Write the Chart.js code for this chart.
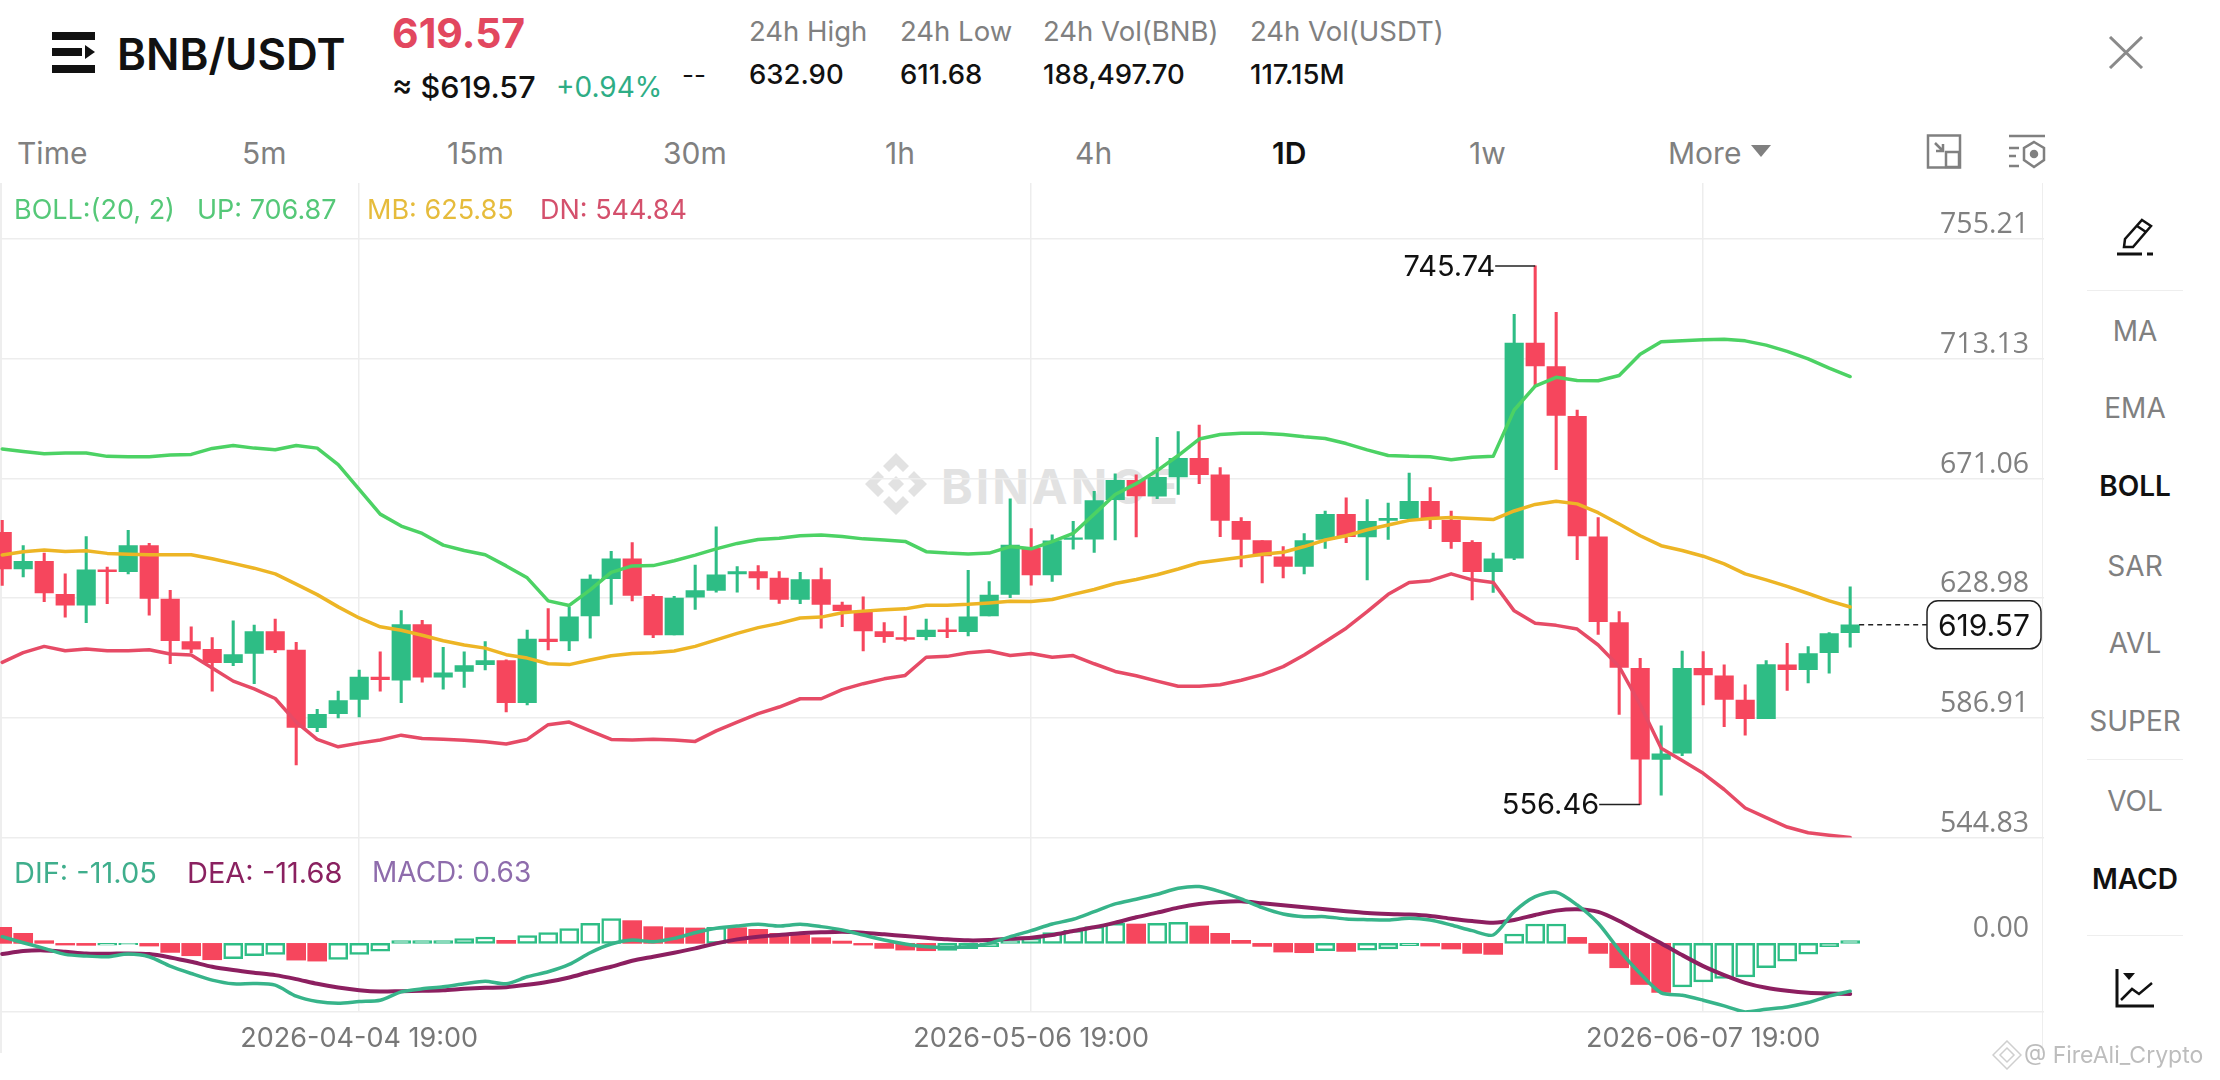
<!DOCTYPE html>
<html lang="en">

<head>
    <meta charset="UTF-8">
    <title>BNB/USDT | 1D</title>
    <script src="https://cdn.jsdelivr.net/npm/chart.js"></script>
    <style>
        body {
            margin: 0;
            background: #FFFFFF;
            font-family: 'Inter', 'Noto Sans', sans-serif;
            width: 2220px;
            height: 1080px;
            overflow: hidden;
            position: relative;
        }

        .t {
            position: absolute;
            white-space: nowrap;
            line-height: 1;
            transform: translateY(-50%);
        }

        .c {
            transform: translate(-50%, -50%);
        }

        .grey { color: #808080; }
        .dark { color: #111111; }

        .head { font-size: 27.5px; }
        .tab { font-size: 30px; top: 153px; color: #808080; }
        .side { font-size: 28px; left: 2135px; color: #808080; }
        .side.on { color: #111111; font-weight: 600; }
        .leg { font-size: 27px; }

        .rule {
            position: absolute;
            left: 2087px;
            width: 96px;
            height: 1px;
            background: #EEEEEE;
        }

        canvas, svg, .frame { position: absolute; }

        .frame {
            left: 0;
            top: 183px;
            width: 2043px;
            height: 870px;
            border-left: 2px solid #EEEEEE;
            border-right: 1px solid #EEEEEE;
            box-sizing: border-box;
        }
    </style>
</head>

<body>
    <svg style="left:52px;top:32px" width="44" height="42" viewBox="0 0 44 42">
        <rect x="0" y="0" width="43" height="8" fill="#111" />
        <rect x="0" y="33" width="43" height="8" fill="#111" />
        <rect x="0" y="16" width="30" height="8" fill="#111" />
        <path d="M33 13 L43 20 L33 27 Z" fill="#111" />
    </svg>
    <div class="t dark" style="left:117px;top:54px;font-size:44px;font-weight:600">BNB/USDT</div>
    <div class="t" style="left:392px;top:33px;font-size:41px;font-weight:700;color:#E2475F">619.57</div>
    <div class="t dark" style="left:392px;top:87px;font-size:30.5px;font-weight:500">≈ $619.57</div>
    <div class="t" style="left:556px;top:87px;font-size:28px;color:#2EAD85">+0.94%</div>
    <div class="t dark" style="left:682px;top:75px;font-size:26px">--</div>

    <div class="t grey head" style="left:749px;top:32px">24h High</div>
    <div class="t dark head" style="left:749px;top:75px;font-weight:500">632.90</div>
    <div class="t grey head" style="left:900px;top:32px">24h Low</div>
    <div class="t dark head" style="left:900px;top:75px;font-weight:500">611.68</div>
    <div class="t grey head" style="left:1043px;top:32px">24h Vol(BNB)</div>
    <div class="t dark head" style="left:1043px;top:75px;font-weight:500">188,497.70</div>
    <div class="t grey head" style="left:1250px;top:32px">24h Vol(USDT)</div>
    <div class="t dark head" style="left:1250px;top:75px;font-weight:500">117.15M</div>

    <svg style="left:2108px;top:36px" width="36" height="33" viewBox="0 0 36 33">
        <path d="M2 1 L34 32 M34 1 L2 32" stroke="#8A8A8A" stroke-width="3" fill="none" />
    </svg>

    <div class="t tab" style="left:17px">Time</div>
    <div class="t tab" style="left:242px">5m</div>
    <div class="t tab" style="left:447px">15m</div>
    <div class="t tab" style="left:663px">30m</div>
    <div class="t tab" style="left:885px">1h</div>
    <div class="t tab" style="left:1075px">4h</div>
    <div class="t tab" style="left:1272px;color:#111;font-weight:600">1D</div>
    <div class="t tab" style="left:1469px">1w</div>
    <div class="t tab" style="left:1668px">More</div>
    <svg style="left:1751px;top:145px" width="20" height="12" viewBox="0 0 20 12">
        <path d="M0 0 H20 L10 12 Z" fill="#808080" />
    </svg>
    <svg style="left:1926px;top:134px" width="36" height="35" viewBox="0 0 36 35" fill="none" stroke="#808080" stroke-width="2.5">
        <path d="M12 1.5 H34 V33.5 H2 V1.5 H12" />
        <rect x="20" y="18" width="13" height="15" />
        <path d="M9 9 L17 17 M17 10 V17 H10" />
    </svg>
    <svg style="left:2009px;top:134px" width="38" height="35" viewBox="0 0 38 35" fill="none" stroke="#808080" stroke-width="2.5">
        <path d="M0 2 H36 M0 14 H10 M0 22 H7 M0 32 H10" />
        <path d="M25 8 L35 14 V26 L25 33 L15 26 V14 Z" />
        <circle cx="25" cy="20" r="3" fill="#808080" />
    </svg>

    <div class="frame"></div>

    <!-- watermark sits under the transparent chart canvas -->
    <svg style="left:865px;top:453px" width="62" height="62" viewBox="0 0 62 62" fill="#E2E2E2">
        <path d="M31 0 L44 13 L38 19 L31 12 L24 19 L18 13 Z" />
        <path d="M13 18 L19 24 L12 31 L19 38 L13 44 L0 31 Z" />
        <path d="M49 18 L62 31 L49 44 L43 38 L50 31 L43 24 Z" />
        <path d="M31 23 L39 31 L31 39 L23 31 Z" />
        <path d="M31 62 L18 49 L24 43 L31 50 L38 43 L44 49 Z" />
    </svg>
    <div class="t" style="left:941px;top:487px;font-size:48px;font-weight:700;letter-spacing:3px;color:#E2E2E2">BINANCE</div>

    <canvas id="priceChart" width="2044" height="656" style="left:0;top:183px"></canvas>
    <canvas id="macdChart" width="2044" height="223" style="left:0;top:837px"></canvas>

    <div class="t leg" style="left:14px;top:209px;color:#55C878">BOLL:(20, 2)</div>
    <div class="t leg" style="left:197px;top:209px;color:#55C878">UP: 706.87</div>
    <div class="t leg" style="left:367px;top:209px;color:#E6BC3C">MB: 625.85</div>
    <div class="t leg" style="left:540px;top:209px;color:#D4506C">DN: 544.84</div>
    <div class="t leg" style="left:14px;top:872px;color:#3FAE8C;font-size:29px">DIF: -11.05</div>
    <div class="t leg" style="left:187px;top:872px;color:#8A2160;font-size:29px">DEA: -11.68</div>
    <div class="t leg" style="left:372px;top:872px;color:#8E6CAC;font-size:28px">MACD: 0.63</div>

    <svg style="left:2116px;top:218px" width="38" height="38" viewBox="0 0 38 38" fill="none" stroke="#111" stroke-width="2.5">
        <path d="M26 2 L35 8 L17 29 L8 29 L9 21 Z M21 8 L30 14" />
        <path d="M1 36 H26 M31 36 H37" stroke-width="3" />
    </svg>
    <div class="rule" style="top:290px"></div>
    <div class="t c side" style="top:331px">MA</div>
    <div class="t c side" style="top:408px">EMA</div>
    <div class="t c side on" style="top:486px">BOLL</div>
    <div class="t c side" style="top:566px">SAR</div>
    <div class="t c side" style="top:643px">AVL</div>
    <div class="t c side" style="top:721px">SUPER</div>
    <div class="rule" style="top:759px"></div>
    <div class="t c side" style="top:801px">VOL</div>
    <div class="t c side on" style="top:879px">MACD</div>
    <div class="rule" style="top:935px"></div>
    <svg style="left:2115px;top:969px" width="39" height="39" viewBox="0 0 39 39" fill="none" stroke="#111" stroke-width="2.5">
        <path d="M2 0 V37 H39" stroke-width="3" />
        <path d="M6 31 L17 20 L24 25 L37 14" />
        <path d="M8 4 H20 L14 11 Z" fill="#111" stroke="none" />
    </svg>

    <svg style="left:1992px;top:1040px" width="30" height="30" viewBox="0 0 30 30" fill="none" stroke="#CFCFCF" stroke-width="1.5">
        <path d="M15 1 L29 15 L15 29 L1 15 Z M15 8 L22 15 L15 22 L8 15 Z" />
    </svg>
    <div class="t" style="left:2024px;top:1055px;font-size:23px;color:#BDBDBD">@ FireAli_Crypto</div>

    <script>
        // Daily candles, index 0 is 2026-03-18
        const open = [652.1, 639.2, 641.9, 630.3, 626.5, 638.9, 638.3, 647.4, 628.6, 613.7, 611.0, 606.3, 609.5, 617.2, 610.7, 583.4, 588.4, 593.4, 601.2, 600.1, 619.7, 601.2, 603.2, 605.6, 607.0, 592.2, 614.6, 613.9, 622.7, 635.8, 642.8, 629.6, 616.0, 629.3,
            631.7, 637.5, 638.3, 636.0, 628.5, 635.5, 626.5, 624.1, 617.2, 615.1, 615.4, 617.8, 617.2, 622.7, 630.3, 646.6, 637.1, 649.6, 649.7, 663.6, 670.4, 664.8, 671.6, 678.1, 672.3, 656.0, 649.2, 643.5, 640.1, 649.6, 658.4, 650.5, 656.3,
            656.9, 663.0, 656.3, 648.6, 638.3, 643.0, 718.6, 710.4, 692.9, 650.5, 620.4, 604.3, 572.3, 574.5, 604.3, 601.7, 593.1, 586.6, 605.5, 603.8, 609.8, 616.8];
        const high = [656.3, 647.4, 644.8, 637.5, 650.6, 639.9, 652.8, 648.2, 631.7, 618.9, 615.1, 621.0, 619.5, 621.6, 613.4, 589.9, 596.3, 603.7, 610.1, 624.6, 621.2, 611.7, 610.1, 613.7, 607.3, 617.7, 625.3, 625.8, 637.2, 645.4, 648.5, 630.2, 629.6, 640.6,
            654.0, 640.1, 640.4, 638.3, 638.0, 639.5, 627.6, 629.4, 620.4, 622.7, 621.6, 622.0, 638.7, 634.8, 663.9, 653.4, 651.2, 656.0, 666.5, 672.7, 672.3, 685.5, 687.5, 689.8, 674.9, 657.3, 649.2, 647.1, 651.7, 659.6, 664.2, 663.6, 662.4,
            672.9, 667.8, 659.6, 649.2, 644.8, 728.7, 745.74, 729.4, 695.1, 657.3, 624.2, 607.8, 584.1, 610.4, 610.2, 605.5, 598.5, 607.0, 613.1, 611.9, 616.9, 632.9];
        const low = [633.4, 636.4, 627.7, 622.3, 620.3, 627.0, 637.5, 623.0, 605.9, 609.8, 596.3, 605.2, 598.9, 609.8, 570.3, 582.0, 586.9, 587.2, 596.3, 592.2, 599.4, 597.0, 597.6, 603.7, 589.0, 591.4, 610.8, 610.5, 614.9, 626.8, 628.0, 615.1, 616.0, 625.0,
            631.1, 631.1, 632.0, 627.1, 627.0, 618.4, 618.9, 610.4, 613.4, 613.9, 614.3, 615.1, 615.7, 622.7, 629.1, 633.5, 634.8, 646.2, 645.0, 649.4, 650.5, 663.9, 665.4, 669.2, 650.6, 639.9, 634.3, 636.1, 637.5, 646.4, 648.5, 635.4, 649.6,
            656.9, 653.4, 646.4, 628.3, 631.0, 642.5, 703.4, 674.1, 642.5, 616.2, 588.1, 556.46, 559.7, 573.6, 591.4, 583.8, 580.8, 586.6, 596.5, 599.2, 602.6, 611.7];
        const close = [639.2, 641.9, 630.8, 626.5, 638.9, 638.3, 647.4, 628.9, 614.0, 611.0, 606.3, 609.1, 617.2, 610.8, 583.5, 588.1, 593.0, 601.2, 600.3, 619.7, 601.2, 602.7, 605.3, 607.0, 592.2, 614.6, 613.7, 622.4, 635.7, 642.8, 629.9, 616.0, 629.0, 631.6,
            637.2, 638.3, 636.1, 628.5, 635.5, 626.8, 624.6, 617.4, 615.4, 614.5, 617.7, 617.2, 622.4, 630.0, 647.6, 637.1, 649.1, 650.2, 663.3, 670.4, 664.9, 671.4, 678.1, 672.4, 656.3, 649.6, 643.8, 640.1, 649.2, 658.4, 650.6, 656.0, 657.0,
            663.0, 656.9, 648.8, 638.3, 642.8, 718.6, 710.6, 693.2, 650.8, 620.7, 604.6, 572.4, 574.2, 604.3, 602.0, 593.4, 586.6, 605.6, 603.8, 609.5, 616.5, 619.57];

        // Bollinger bands
        const bollUp = [681.4, 680.5, 679.7, 680.0, 680.0, 678.8, 678.7, 678.7, 679.3, 679.5, 681.6, 682.6, 681.7, 681.1, 682.6, 681.7, 675.9, 667.2, 658.5, 654.3, 651.7, 647.6, 645.7, 644.2, 640.3, 636.1, 628.0, 626.4, 631.9, 638.0, 640.3, 640.4, 642.1, 644.1,
            646.3, 648.2, 649.6, 650.0, 650.9, 651.2, 650.6, 649.8, 649.4, 648.9, 645.3, 644.8, 644.5, 644.8, 647.1, 646.3, 648.8, 651.7, 658.5, 665.4, 669.2, 673.8, 679.1, 684.9, 686.5, 686.9, 686.9, 686.5, 685.7, 685.1, 683.3, 681.1, 679.1,
            678.8, 678.7, 677.6, 678.5, 678.8, 695.1, 703.5, 706.6, 705.5, 705.4, 707.2, 714.7, 719.1, 719.4, 719.8, 720.0, 719.4, 717.9, 715.7, 713.1, 709.8, 706.87];
        const bollMid = [644.1, 645.3, 645.9, 645.4, 645.6, 644.7, 644.4, 644.2, 644.2, 644.2, 642.8, 641.2, 639.5, 637.5, 633.9, 630.2, 625.9, 622.0, 618.9, 617.7, 615.9, 614.0, 612.5, 611.4, 609.1, 607.9, 605.9, 605.6, 607.2, 608.7, 609.5, 609.8, 610.4, 612.0,
            614.3, 616.6, 618.6, 620.1, 622.0, 622.3, 623.8, 624.4, 624.9, 625.2, 626.5, 626.5, 626.8, 627.3, 627.9, 627.8, 628.5, 630.3, 632.0, 634.1, 635.5, 637.2, 639.2, 641.4, 642.4, 643.3, 644.4, 645.1, 647.1, 649.4, 650.9, 653.0, 654.7,
            656.3, 657.0, 657.3, 657.0, 656.6, 659.6, 661.9, 663.0, 662.1, 659.0, 655.0, 650.9, 647.4, 645.7, 643.7, 641.0, 637.5, 635.4, 633.1, 630.6, 628.0, 625.85];
        const bollDn = [606.4, 609.8, 612.0, 610.5, 611.1, 610.5, 610.5, 610.8, 609.3, 609.0, 604.4, 599.8, 597.1, 593.7, 585.4, 579.3, 576.7, 578.0, 579.1, 580.8, 579.6, 579.4, 579.0, 578.5, 577.7, 579.3, 584.5, 585.4, 582.3, 579.3, 579.1, 579.4, 579.1, 578.6,
            582.3, 585.4, 588.4, 590.7, 593.6, 593.6, 596.8, 598.9, 600.6, 601.8, 608.2, 608.5, 609.8, 610.4, 608.8, 609.5, 608.2, 608.8, 605.9, 603.2, 601.7, 599.8, 598.0, 598.0, 598.5, 600.1, 602.1, 604.9, 609.0, 613.6, 618.4, 624.2, 630.3,
            634.5, 635.1, 637.5, 635.4, 634.5, 624.5, 620.1, 619.4, 618.1, 612.5, 604.9, 591.5, 576.2, 571.9, 567.4, 561.7, 555.2, 551.8, 548.5, 546.5, 545.6, 544.84];

        // MACD panel
        const dif = [1.55, 0.15, -1.16, -2.55, -2.94, -3.09, -2.47, -3.09, -5.26, -6.96, -8.50, -9.35, -9.28, -9.66, -12.21, -13.45, -13.84, -13.45, -13.14, -11.21, -10.51, -10.05, -9.35, -8.73, -9.35, -7.73, -6.57, -4.87, -2.16, -0.15, 0.77, 0.39, 1.16, 2.47, 3.48, 4.02, 4.41, 4.02, 4.41, 3.87, 3.09, 1.93, 0.77, -0.15, -0.77, -0.93, -0.77, 0.00,
            1.55, 2.94, 4.48, 5.57, 7.34, 9.12, 10.20, 11.36, 12.75, 13.14, 11.98, 10.28, 8.27, 6.80, 6.18, 6.18, 5.64, 5.49, 5.41, 5.80, 5.41, 4.25, 2.94, 1.93, 7.34, 10.82, 11.83, 8.89, 4.64, -1.55, -6.96, -11.44, -11.98, -13.14, -14.46, -15.85, -15.23, -14.69, -13.68, -12.21, -11.05];
        const dea = [-2.47, -1.78, -1.62, -1.93, -2.32, -2.40, -2.32, -2.47, -3.25, -4.25, -5.41, -6.18, -6.80, -7.34, -8.27, -9.35, -10.20, -10.82, -11.13, -11.05, -10.98, -10.82, -10.51, -10.28, -10.13, -9.59, -8.89, -7.88, -6.57, -5.41, -4.02, -3.09, -2.16, -1.16, 0.00, 0.93, 1.55, 1.93, 2.32, 2.55, 2.71, 2.47, 2.09, 1.70, 1.31, 0.93, 0.70, 0.77,
            1.08, 1.31, 1.93, 2.86, 3.71, 4.79, 6.03, 7.11, 8.27, 9.12, 9.59, 9.74, 9.28, 8.81, 8.35, 7.88, 7.42, 7.03, 6.80, 6.65, 6.34, 5.72, 5.18, 4.79, 5.41, 6.57, 7.57, 7.88, 7.27, 5.18, 2.55, 0.00, -2.71, -5.26, -7.34, -9.12, -10.28, -10.98, -11.44, -11.60, -11.68];
        const macd = [3.71, 2.32, 0.62, -0.39, -0.46, -0.39, -0.31, -0.62, -2.09, -2.86, -3.79, -3.56, -2.86, -2.55, -3.87, -4.10, -3.71, -2.55, -1.78, 0.62, 0.62, 0.62, 1.08, 1.47, 0.70, 1.78, 2.47, 3.40, 4.64, 5.72, 5.26, 3.87, 3.63, 3.56, 3.71, 3.63, 3.25, 2.32, 1.93, 1.31, 0.54, -0.39, -1.16, -1.55, -1.70, -1.62, -1.24, -0.77,
            0.62, 1.16, 2.47, 3.01, 3.87, 4.64, 4.48, 4.64, 4.87, 4.02, 2.32, 0.70, -0.70, -2.01, -2.16, -1.70, -1.86, -1.55, -1.31, -0.54, -0.62, -1.31, -2.32, -2.55, 2.16, 4.48, 4.48, 1.39, -2.32, -5.64, -9.51, -11.36, -10.05, -8.89, -8.12, -7.73, -5.64, -4.10, -2.47, -0.77, 0.63];

        // Axis ticks
        const dateTickIndex = [17, 49, 81];
        const dateTickLabels = ['2026-04-04 19:00', '2026-05-06 19:00', '2026-06-07 19:00'];
        const priceTicks = [755.21, 713.13, 671.06, 628.98, 586.91, 544.83];
        const macdTicks = [0];

        const UP = '#2EBD85';
        const DOWN = '#F6465D';
        const GRID = '#EDEDED';
        const FONT = "'Inter', 'Noto Sans', sans-serif";
        const TICK_FONT = "'Open Sans', 'Noto Sans', sans-serif";

        const isUp = i => close[i] >= open[i];
        const candleColor = ctx => isUp(ctx.dataIndex) ? UP : DOWN;
        const points = arr => arr.map((v, i) => ({ x: i, y: v }));

        // the library reserves room for edge labels, the panels here run edge to edge
        const noPadding = axis => {
            axis.paddingTop = 0;
            axis.paddingBottom = 0;
            axis.paddingLeft = 0;
            axis.paddingRight = 0;
        };
        const overlayAxis = axis => {
            noPadding(axis);
            axis.width = 0;
        };

        const xBase = {
            type: 'linear',
            min: -0.105,
            max: 97.23,
            offset: false,
            afterBuildTicks: axis => { axis.ticks = dateTickIndex.map(v => ({ value: v })); },
            grid: { color: GRID, lineWidth: 1.5, drawTicks: false, offset: false }
        };

        function lineSet(label, values, color, width, tension) {
            return {
                type: 'line', label, data: points(values), order: 1,
                borderColor: color, borderWidth: width, pointRadius: 0,
                tension, borderJoinStyle: 'round', borderCapStyle: 'round'
            };
        }

        // high / low markers and the last price box
        const pricePlugin = {
            id: 'priceMarks',
            afterDatasetsDraw(chart) {
                const { ctx, scales: { x, y } } = chart;
                const topAt = high.indexOf(Math.max(...high));
                const lowAt = low.indexOf(Math.min(...low));
                ctx.save();
                ctx.font = '29px ' + FONT;
                ctx.textBaseline = 'middle';
                ctx.textAlign = 'right';
                ctx.fillStyle = '#111';
                ctx.strokeStyle = '#222';
                ctx.lineWidth = 1.5;
                [[topAt, high[topAt], 40], [lowAt, low[lowAt], 41]].forEach(([i, v, len]) => {
                    const px = x.getPixelForValue(i);
                    const py = y.getPixelForValue(v);
                    ctx.beginPath();
                    ctx.moveTo(px - len, py);
                    ctx.lineTo(px, py);
                    ctx.stroke();
                    ctx.fillText(v.toFixed(2), px - len, py + 1);
                });

                const last = close.length - 1;
                const lx = x.getPixelForValue(last);
                const ly = y.getPixelForValue(close[last]);
                ctx.setLineDash([5, 4]);
                ctx.beginPath();
                ctx.moveTo(lx + 9, ly);
                ctx.lineTo(1927, ly);
                ctx.stroke();
                ctx.setLineDash([]);
                ctx.beginPath();
                ctx.roundRect(1927, ly - 24, 114, 48, 11);
                ctx.fillStyle = '#FFF';
                ctx.fill();
                ctx.stroke();
                ctx.font = '30px ' + FONT;
                ctx.fillStyle = '#111';
                ctx.textAlign = 'center';
                ctx.fillText(close[last].toFixed(2), 1984, ly + 2);
                ctx.restore();
            }
        };

        new Chart(document.getElementById('priceChart'), {
            data: {
                datasets: [
                    {
                        type: 'bar', label: 'wick', order: 3, barThickness: 2.4, grouped: false,
                        data: low.map((v, i) => ({ x: i, y: [v, high[i]] })),
                        backgroundColor: candleColor
                    },
                    {
                        type: 'bar', label: 'body', order: 2, barThickness: 18.5, grouped: false,
                        data: open.map((v, i) => ({ x: i, y: [v, close[i]] })),
                        backgroundColor: candleColor
                    },
                    lineSet('UP', bollUp, '#4CD264', 3.5, 0),
                    lineSet('MB', bollMid, '#EDB525', 3.5, 0),
                    lineSet('DN', bollDn, '#E64B66', 3.5, 0)
                ]
            },
            options: {
                responsive: false,
                animation: false,
                devicePixelRatio: 1,
                layout: { padding: { bottom: 1.5 } },
                plugins: { legend: { display: false }, tooltip: { enabled: false } },
                scales: {
                    x: { ...xBase, afterFit: noPadding, border: { display: false }, ticks: { display: false } },
                    y: {
                        position: 'right',
                        min: 544.83,
                        max: 774.89,
                        afterFit: overlayAxis,
                        afterBuildTicks: axis => { axis.ticks = priceTicks.map(v => ({ value: v })); },
                        border: { display: false },
                        grid: { color: GRID, lineWidth: 1.5, drawTicks: false },
                        ticks: {
                            mirror: true,
                            padding: -15,
                            labelOffset: -14,
                            color: '#808080',
                            font: { family: TICK_FONT, size: 28.5 },
                            callback: v => v.toFixed(2)
                        }
                    }
                }
            },
            plugins: [pricePlugin]
        });

        // hollow bar when the histogram rises against the day before
        const macdRising = i => i > 0 && macd[i] >= macd[i - 1];

        new Chart(document.getElementById('macdChart'), {
            data: {
                datasets: [
                    {
                        type: 'bar', label: 'MACD', order: 2, barThickness: 19,
                        data: points(macd),
                        backgroundColor: ctx => macdRising(ctx.dataIndex) ? '#FFFFFF' : DOWN,
                        borderColor: UP,
                        borderWidth: ctx => macdRising(ctx.dataIndex) ? 2.5 : 0,
                        borderSkipped: false
                    },
                    lineSet('DIF', dif, '#37B48A', 3.5, 0.25),
                    lineSet('DEA', dea, '#8C1F60', 4, 0.25)
                ]
            },
            options: {
                responsive: false,
                animation: false,
                devicePixelRatio: 1,
                plugins: { legend: { display: false }, tooltip: { enabled: false } },
                scales: {
                    x: {
                        ...xBase,
                        afterFit: axis => { noPadding(axis); axis.height = 48; },
                        border: { display: true, color: GRID, width: 1.5 },
                        ticks: {
                            autoSkip: false,
                            maxRotation: 0,
                            padding: 11,
                            color: '#777777',
                            font: { family: FONT, size: 27 },
                            callback: v => dateTickLabels[dateTickIndex.indexOf(v)]
                        }
                    },
                    y: {
                        position: 'right',
                        min: -15.87,
                        max: 24.6,
                        afterFit: overlayAxis,
                        afterBuildTicks: axis => { axis.ticks = macdTicks.map(v => ({ value: v })); },
                        border: { display: false },
                        grid: { display: false, drawTicks: false },
                        ticks: {
                            mirror: true,
                            padding: -15,
                            labelOffset: -15,
                            color: '#808080',
                            font: { family: TICK_FONT, size: 28.5 },
                            callback: v => v.toFixed(2)
                        }
                    }
                }
            }
        });
    </script>
</body>

</html>
